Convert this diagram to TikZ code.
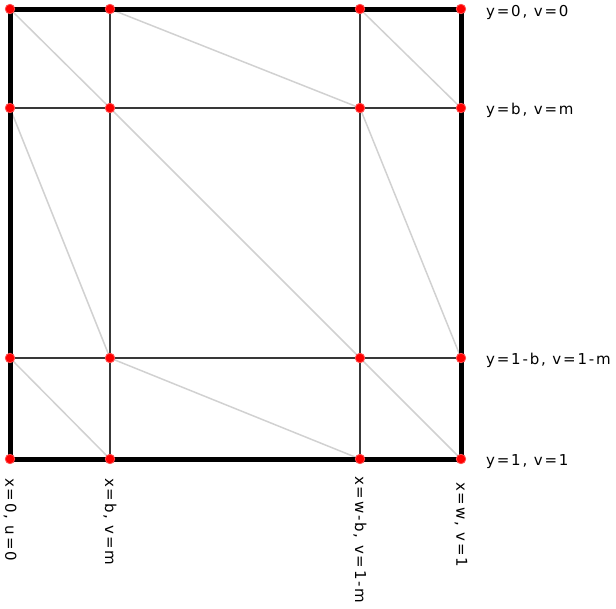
\documentclass[tikz,border=0pt]{standalone}
\usepackage{fontspec}
\setmainfont{DejaVu Sans}[LetterSpace=12]
\begin{document}
\begin{tikzpicture}[x=1pt,y=-1pt,
  dot/.style={circle,fill=red,draw=red!70!white,line width=0.8pt,inner sep=0pt,minimum size=9.5pt},
  diag/.style={draw=black!18,line width=1.5pt},
  grid/.style={draw=black!78,line width=2.2pt},
  border/.style={draw=black,line width=5pt,line cap=square},
  lab/.style={font=\fontsize{15}{18}\selectfont,inner sep=0pt}]
\useasboundingbox (0,0) rectangle (616,608);
\def\xa{10}\def\xb{110}\def\xc{360}\def\xd{461}
\def\ya{9}\def\yb{108}\def\yc{358}\def\yd{459}
\foreach \i/\x in {1/\xa,2/\xb,3/\xc,4/\xd}{
  \foreach \j/\y in {1/\ya,2/\yb,3/\yc,4/\yd}{
    \coordinate (c\i\j) at (\x,\y);
  }
}
% diagonals
\foreach \i/\ii in {1/2,2/3,3/4}{
  \foreach \j/\jj in {1/2,2/3,3/4}{
    \draw[diag] (c\i\j) -- (c\ii\jj);
  }
}
% inner lines
\draw[grid] (c21) -- (c24);
\draw[grid] (c31) -- (c34);
\draw[grid] (c12) -- (c42);
\draw[grid] (c13) -- (c43);
% border
\draw[border] (c11) -- (c41) -- (c44) -- (c14) -- cycle;
% dots
\foreach \i in {1,2,3,4}{
  \foreach \j in {1,2,3,4}{
    \node[dot] (p\i\j) at (c\i\j) {};
  }
}
% right labels
\node[lab,anchor=west] (ly1) at (486,12) {y=0, v=0};
\node[lab,anchor=west] (ly2) at (486,110) {y=b, v=m};
\node[lab,anchor=west] (ly3) at (486,360) {y=1-b, v=1-m};
\node[lab,anchor=west] (ly4) at (486,462) {y=1, v=1};
% bottom labels
\node[lab,anchor=west,rotate=-90] (lx1) at (\xa,478) {x=0, u=0};
\node[lab,anchor=west,rotate=-90] (lx2) at (\xb,478) {x=b, v=m};
\node[lab,anchor=west,rotate=-90] (lx3) at (\xc,476) {x=w-b, v=1-m};
\node[lab,anchor=west,rotate=-90] (lx4) at (\xd,482) {x=w, v=1};
\end{tikzpicture}
\end{document}
